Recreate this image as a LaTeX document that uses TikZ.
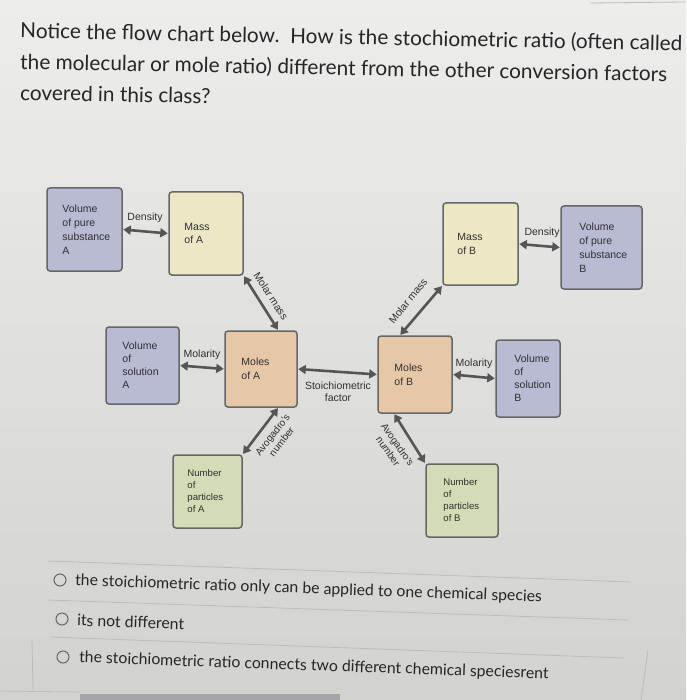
\documentclass[tikz,border=0pt]{standalone}
\usepackage{fontspec}
\setmainfont{Liberation Sans}
\newfontfamily\latofont{Lato}
\usetikzlibrary{arrows.meta}
\definecolor{bgtop}{HTML}{EDEDEC}
\definecolor{bgbot}{HTML}{D2D2CF}
\definecolor{volc}{HTML}{B9BAD4}
\definecolor{massc}{HTML}{EEE7C6}
\definecolor{molc}{HTML}{E6C8A9}
\definecolor{numc}{HTML}{D3DCB6}
\definecolor{boxline}{HTML}{666666}
\definecolor{arrc}{HTML}{555555}
\definecolor{txt}{HTML}{303030}
\definecolor{qtxt}{HTML}{262626}
\definecolor{sepc}{HTML}{BBBBB9}
\definecolor{stripc}{HTML}{A2A5A9}
\newcommand\diagbox[9]{%
  \node[bx, fill=#2, minimum width=#5pt, minimum height=#6pt] (#1) at (#3,#4) {};
  \node[bt, anchor=west, #9] (#1t) at ([xshift=#7pt]#1.west) {#8};
}
\begin{document}
\begin{tikzpicture}[x=1pt,y=-1pt,
  bx/.style={draw=boxline, line width=1.5pt, rounded corners=3pt, inner sep=0pt},
  bt/.style={align=left, inner sep=0pt, text=txt, font=\fontsize{10.5}{13.8}\selectfont},
  small/.style={font=\fontsize{9.6}{12}\selectfont},
  lab/.style={inner sep=0pt, text=txt, font=\fontsize{10.5}{12}\selectfont},
  dar/.style={draw=arrc, line width=2.6pt, {Triangle[length=7.5pt,width=9pt]}-{Triangle[length=7.5pt,width=9pt]}, shorten <=0.5pt, shorten >=0.5pt},
  q/.style={inner sep=0pt, text=qtxt, font=\latofont\fontsize{20.8}{24}\selectfont},
  opt/.style={inner sep=0pt, text=qtxt, font=\latofont\fontsize{15.8}{18}\selectfont},
  radio/.style={circle, draw=gray!80!black, line width=1pt, minimum size=12pt, inner sep=0pt},
  sep/.style={draw=sepc, line width=0.8pt}
]
\useasboundingbox (0,0) rectangle (686,700);
\shade[top color=bgtop, bottom color=bgbot] (0,0) rectangle (686,700);
% faint page details
\draw[sep] (590,3) -- (686,2);
\draw[sep] (32,640) -- (33,691);
\draw[sep] (0,691) -- (80,692);
\draw[sep] (648,650) -- (641,700);
\fill[stripc] (80,694) rectangle (340,700);
% question
\node[q, anchor=base west, rotate=-1.1] (q1) at (20,38) {Notice the flow chart below.\ \ How is the stochiometric ratio (often called};
\node[q, anchor=base west, rotate=-1.1] (q2) at (20,69) {the molecular or mole ratio) different from the other conversion factors};
\node[q, anchor=base west, rotate=-1.1] (q3) at (20,100) {covered in this class?};
% boxes
\diagbox{volA}{volc}{84.5}{229.5}{75}{83}{16}{Volume\\of pure\\substance\\A}{}
\diagbox{massA}{massc}{206}{233.5}{74}{83}{16}{Mass\\of A}{}
\diagbox{massB}{massc}{480.5}{244}{75}{82}{15}{Mass\\of B}{}
\diagbox{volB}{volc}{601.5}{247.5}{81}{83}{19}{Volume\\of pure\\substance\\B}{}
\diagbox{volsA}{volc}{142.5}{365.5}{73}{77}{17}{Volume\\of\\solution\\A}{font=\fontsize{10.5}{13}\selectfont}
\diagbox{molesA}{molc}{261}{369}{72}{76}{17}{Moles\\of A}{}
\diagbox{molesB}{molc}{415}{374.5}{74}{77}{17}{Moles\\of B}{}
\diagbox{volsB}{volc}{528}{378.5}{64}{77}{19}{Volume\\of\\solution\\B}{font=\fontsize{10.5}{13}\selectfont}
\diagbox{numA}{numc}{207.5}{491.5}{69}{73}{15}{Number\\of\\particles\\of A}{small}
\diagbox{numB}{numc}{462}{500.5}{72}{73}{18}{Number\\of\\particles\\of B}{small}
% connectors
\draw[dar] (volA.east) -- (massA.west);
\draw[dar] (massB.east) -- (volB.west);
\draw[dar] (volsA.east) -- (molesA.west);
\draw[dar] (molesA.east) -- (molesB.west);
\draw[dar] (molesB.east) -- (volsB.west);
\draw[dar] (massA.south east) -- (molesA.66);
\draw[dar] (molesB.111) -- (massB.south west);
\draw[dar] (molesA.-66) -- (numA.north east);
\draw[dar] (molesB.242) -- (numB.north west);
% labels
\node[lab] (dA) at (145,218) {Density};
\node[lab] (dB) at (542,233) {Density};
\node[lab] (mA) at (202,355) {Molarity};
\node[lab] (mB) at (474,364) {Molarity};
\node[lab, align=center] (st) at (338,392) {Stoichiometric\\factor};
\node[lab, rotate=-57] (mmA) at (271,296) {Molar mass};
\node[lab, rotate=51] (mmB) at (408,301) {Molar mass};
\node[lab, rotate=52, align=center, font=\fontsize{10}{11.5}\selectfont] (avA) at (277,438) {Avogadro's\\number};
\node[lab, rotate=-55, align=center, font=\fontsize{10}{11.5}\selectfont] (avB) at (393,448) {Avogadro's\\number};
% options
\draw[sep] (48,561) -- (631,582);
\draw[sep] (48,600) -- (628,620);
\draw[sep] (50,637) -- (624,658);
\node[radio] (r1) at (60,580) {};
\node[radio] (r2) at (62,619) {};
\node[radio] (r3) at (63,657) {};
\node[opt, anchor=west, rotate=-2] (o1) at (75,581) {the stoichiometric ratio only can be applied to one chemical species};
\node[opt, anchor=west, rotate=-2] (o2) at (77,620) {its not different};
\node[opt, anchor=west, rotate=-2] (o3) at (79,658) {the stoichiometric ratio connects two different chemical speciesrent};
\end{tikzpicture}
\end{document}
